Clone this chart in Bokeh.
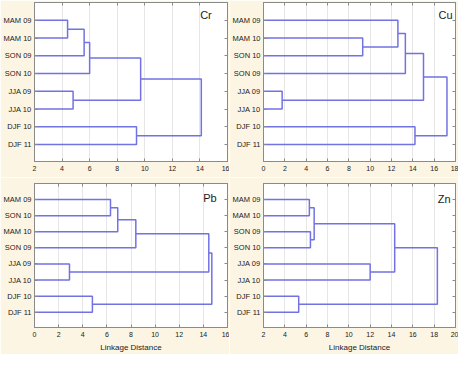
from bokeh.plotting import figure
from bokeh.layouts import gridplot
from bokeh.models import Range1d, FixedTicker, LinearAxis, Label
from bokeh.embed import file_html
from bokeh.resources import INLINE

# ---- data ----
cr_labels = ["MAM 09", "MAM 10", "SON 09", "SON 10", "JJA 09", "JJA 10", "DJF 10", "DJF 11"]
cr_merges = [(0, 1, 4.4), (8, 2, 5.6), (9, 3, 6.0), (4, 5, 4.8), (10, 11, 9.7), (6, 7, 9.4), (12, 13, 14.1)]
cr_ticks = [2, 4, 6, 8, 10, 12, 14, 16]

cu_labels = ["MAM 09", "MAM 10", "SON 10", "SON 09", "JJA 09", "JJA 10", "DJF 10", "DJF 11"]
cu_merges = [(1, 2, 9.3), (0, 8, 12.6), (9, 3, 13.3), (4, 5, 1.75), (10, 11, 15.0), (6, 7, 14.2), (12, 13, 17.2)]
cu_ticks = [0, 2, 4, 6, 8, 10, 12, 14, 16, 18]

pb_labels = ["MAM 09", "SON 10", "MAM 10", "SON 09", "JJA 09", "JJA 10", "DJF 10", "DJF 11"]
pb_merges = [(0, 1, 6.3), (8, 2, 6.9), (9, 3, 8.4), (4, 5, 2.9), (10, 11, 14.45), (6, 7, 4.8), (12, 13, 14.7)]
pb_ticks = [0, 2, 4, 6, 8, 10, 12, 14, 16]

zn_labels = ["MAM 09", "MAM 10", "SON 09", "SON 10", "JJA 09", "JJA 10", "DJF 10", "DJF 11"]
zn_merges = [(0, 1, 6.3), (2, 3, 6.4), (8, 9, 6.75), (4, 5, 12.0), (10, 11, 14.3), (6, 7, 5.3), (12, 13, 18.3)]
zn_ticks = [2, 4, 6, 8, 10, 12, 14, 16, 18, 20]

BG = "#fdf5e4"
LINE = "#7272e2"
FRAME = "#8a8a8a"
TXT = "#1a1a1a"
FONT = "Liberation Sans"


def panel(name, labels, merges, ticks, name_gap_px, name_row, bottom, right):
    x0, x1 = ticks[0], ticks[-1]
    n = len(labels)
    mbl = 32 if right else 31
    mbr = 3 if right else 2
    p = figure(width=229, height=177,
               x_range=Range1d(x0, x1), y_range=Range1d(n + 0.95, 0),
               output_backend="svg", toolbar_location=None,
               min_border_left=mbl, min_border_right=mbr,
               min_border_top=6 if bottom else 2,
               min_border_bottom=26 if bottom else 16,
               background_fill_color="white", border_fill_color=BG,
               outline_line_color=FRAME)
    # dendrogram geometry
    xs_node = {i: x0 for i in range(n)}
    ys_node = {i: i + 1 for i in range(n)}
    xs, ys = [], []
    for k, (a, b, h) in enumerate(merges):
        xs.append([xs_node[a], h, h, xs_node[b]])
        ys.append([ys_node[a], ys_node[a], ys_node[b], ys_node[b]])
        nid = n + k
        xs_node[nid] = h
        ys_node[nid] = (ys_node[a] + ys_node[b]) / 2
    p.multi_line(xs, ys, line_color=LINE, line_width=1.5)

    # axes
    xt = FixedTicker(ticks=ticks)
    yt = FixedTicker(ticks=list(range(1, n + 1)))
    p.xaxis.ticker = xt
    p.yaxis.ticker = yt
    p.yaxis.major_label_overrides = {i + 1: lab for i, lab in enumerate(labels)}
    for ax in (p.xaxis[0], p.yaxis[0]):
        ax.axis_line_color = FRAME
        ax.major_tick_line_color = FRAME
        ax.major_tick_in = 3
        ax.major_tick_out = 0
        ax.minor_tick_line_color = None
        ax.major_label_text_font = FONT
        ax.major_label_text_color = TXT
        ax.major_label_standoff = 3
    p.yaxis.major_label_text_font_size = "7.5px"
    p.xaxis.major_label_text_font_size = "7px"
    p.xaxis.major_label_standoff = 4
    if bottom:
        p.xaxis.axis_label = "Linkage Distance"
        p.xaxis.axis_label_text_font = FONT
        p.xaxis.axis_label_text_font_size = "8px"
        p.xaxis.axis_label_text_font_style = "normal"
        p.xaxis.axis_label_text_color = TXT
        p.xaxis.axis_label_standoff = 3

    # tick marks on the right and top edges (no labels)
    for ticker, side in ((yt, "right"), (xt, "above")):
        ax = LinearAxis(ticker=ticker, axis_line_color=FRAME,
                        major_tick_line_color=FRAME, major_tick_in=3, major_tick_out=0,
                        minor_tick_line_color=None, major_label_text_color=None,
                        major_label_text_font_size="1px", major_label_standoff=0)
        p.add_layout(ax, side)

    p.xgrid.ticker = xt
    p.xgrid.grid_line_color = "#e6e6e6"
    p.ygrid.grid_line_color = None

    fw = 229 - mbl - mbr
    gx = x1 - name_gap_px / fw * (x1 - x0)
    p.add_layout(Label(x=gx, y=name_row, text=name, text_align="right",
                       text_baseline="middle", text_font=FONT,
                       text_font_size="11px", text_color=TXT))
    return p


p1 = panel("Cr", cr_labels, cr_merges, cr_ticks, 16, 0.72, False, False)
p2 = panel("Cu", cu_labels, cu_merges, cu_ticks, 3, 0.68, False, True)
p3 = panel("Pb", pb_labels, pb_merges, pb_ticks, 11, 0.9, True, False)
p4 = panel("Zn", zn_labels, zn_merges, zn_ticks, 5, 0.94, True, True)

grid = gridplot([[p1, p2], [p3, p4]], toolbar_location=None)
open("out.html", "w").write(file_html(grid, INLINE))
